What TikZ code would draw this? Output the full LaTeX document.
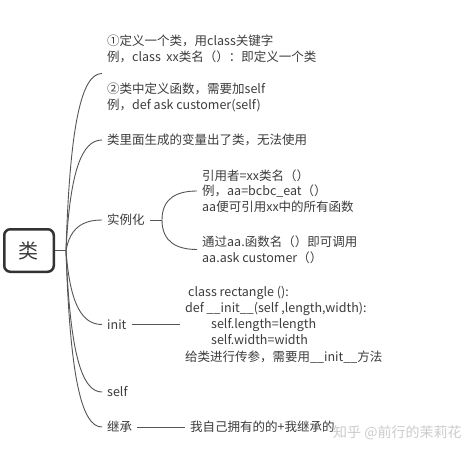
\documentclass[tikz,border=0pt]{standalone}
\usepackage{fontspec}
\setmainfont{Noto Sans CJK SC}
\definecolor{textc}{HTML}{3C3C3C}
\definecolor{linec}{HTML}{555555}
\definecolor{boxc}{HTML}{333333}
\definecolor{wmc}{HTML}{CCCCCC}
\begin{document}
\begin{tikzpicture}[x=1pt,y=-1pt,
  txt/.style={font=\fontsize{12.5}{15.5}\selectfont, text=textc, inner xsep=5pt, inner ysep=0pt, align=left, anchor=west},
  br/.style={draw=linec, line width=0.9pt},
]
\useasboundingbox[fill=white] (0,0) rectangle (474,453);
\node[draw=boxc, line width=2.5pt, rounded corners=6pt, minimum width=49.5pt, minimum height=42.5pt, inner sep=0pt, font=\fontsize{20}{24}\selectfont, text=textc] (root) at (29,250.5) {类};
\coordinate (o) at (66,250.5);
\draw[br] (root.east) -- (o);

\node[txt] (t1) at (102,73.5) {①定义一个类，用class关键字\\例，class\ \ xx类名（）：即定义一个类\\[17pt]②类中定义函数，需要加self\\例，def ask customer(self)};
\node[txt] (t2) at (102,140) {类里面生成的变量出了类，无法使用};
\node[txt] (t3) at (102,220) {实例化};
\node[txt] (t4) at (102,324.5) {init};
\node[txt] (t5) at (102,392) {self};
\node[txt] (t6) at (102,427) {继承};

\draw[br] (o) .. controls +(4,-129) and +(-20,0) .. (t1.west);
\draw[br] (o) .. controls +(4,-80) and +(-20,0) .. (t2.west);
\draw[br] (o) .. controls +(4,-22) and +(-20,0) .. (t3.west);
\draw[br] (o) .. controls +(4,54) and +(-20,0) .. (t4.west);
\draw[br] (o) .. controls +(4,104) and +(-20,0) .. (t5.west);
\draw[br] (o) .. controls +(4,129) and +(-20,0) .. (t6.west);

\coordinate (s3) at (162,220);
\draw[br] (t3.east) -- (s3);
\node[txt] (t31) at (197,191) {引用者=xx类名（）\\例，aa=bcbc\_eat（）\\aa便可引用xx中的所有函数};
\node[txt] (t32) at (197,249.5) {通过aa.函数名（）即可调用\\aa.ask customer（）};
\draw[br] (s3) .. controls +(0,-22) and +(-20,0) .. (t31.west);
\draw[br] (s3) .. controls +(0,22) and +(-20,0) .. (t32.west);

\coordinate (e4) at (180,324.5);
\draw[br] (t4.east) -- (e4);
\node[txt, font=\fontsize{12.5}{16.2}\selectfont] (t41) at (e4) {\hspace*{3pt}class rectangle ():\\def \_\_init\_\_(self ,length,width):\\\hspace*{26pt}self.length=length\\\hspace*{26pt}self.width=width\\给类进行传参，需要用\_\_init\_\_方法};

\coordinate (e6) at (185,427);
\draw[br] (t6.east) -- (e6);
\node[txt] (t61) at (e6) {我自己拥有的的+我继承的};

\node[font=\fontsize{14}{14}\selectfont, text=wmc, anchor=west, inner sep=0pt] (wm) at (333,433) {知乎 @前行的茉莉花};
\end{tikzpicture}
\end{document}
